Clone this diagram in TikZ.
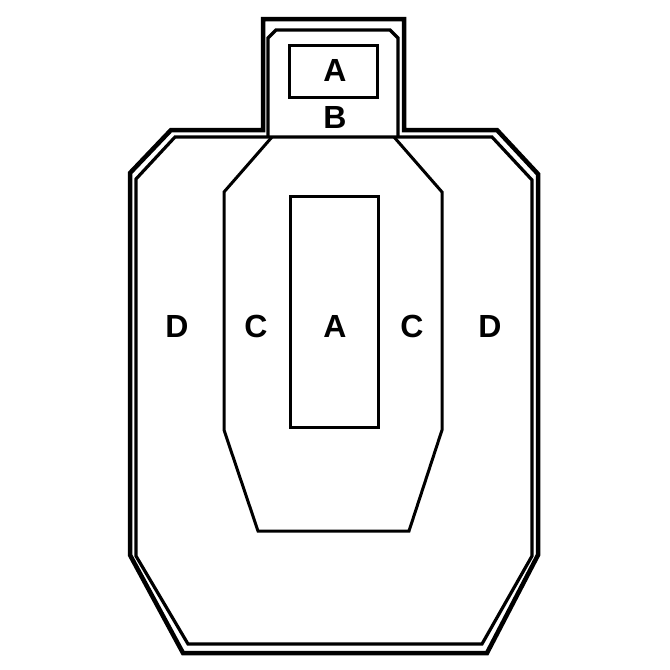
\documentclass[tikz,border=0pt]{standalone}
\usepackage{fontspec}
\setmainfont{Liberation Sans}
\begin{document}
\begin{tikzpicture}[x=1pt,y=-1pt,
  outerline/.style={line width=4.5pt,line join=miter},
  innerline/.style={line width=3.2pt,line join=miter},
  zoneline/.style={line width=3pt,line join=miter},
  lbl/.style={font=\fontsize{32}{32}\selectfont\bfseries,inner sep=0pt}]
\useasboundingbox (0,0) rectangle (670,670);
% outer outline
\draw[outerline] (263,130) -- (263,19) -- (404,19) -- (404,130) -- (497,130)
  -- (538,174) -- (538,555) -- (487,653) -- (183,653) -- (130,555) -- (130,173)
  -- (171,130) -- cycle;
% inner body outline
\draw[innerline] (175,137) -- (492,137) -- (532,180) -- (532,556) -- (482,644)
  -- (188,644) -- (136,556) -- (136,179) -- cycle;
% inner head outline
\draw[innerline] (268,137) -- (268,38) -- (276,30) -- (390,30) -- (398,38) -- (398,137);
% C zone
\draw[zoneline] (272,137) -- (224,192) -- (224,430) -- (258,531) -- (409,531)
  -- (442,430) -- (442,192) -- (394,137);
% A zones
\draw[zoneline] (290,196) rectangle (378,427);
\draw[zoneline] (289,45) rectangle (377,97);
% labels
\node[lbl] (hA) at (335,70) {A};
\node[lbl] (hB) at (335,117) {B};
\node[lbl] (dL) at (177,326) {D};
\node[lbl] (cL) at (256,326) {C};
\node[lbl] (aC) at (335,326) {A};
\node[lbl] (cR) at (412,326) {C};
\node[lbl] (dR) at (490,326) {D};
\end{tikzpicture}
\end{document}
